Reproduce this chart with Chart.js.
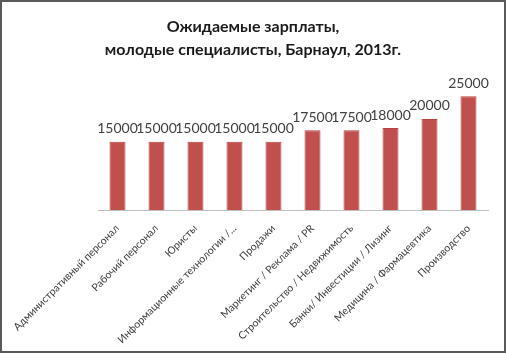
<!DOCTYPE html>
<html>
<head>
<meta charset="utf-8">
<script src="https://cdn.jsdelivr.net/npm/chart.js@4"></script>
<style>
    html, body { margin: 0; padding: 0; background: #ffffff; }
    #wrap {
        width: 502px;
        height: 349px;
        border: 2px solid #5a5a5a;
        background: #ffffff;
    }
</style>
</head>
<body>
<div id="wrap"><canvas id="salaryChart" width="502" height="349"></canvas></div>
<script>
const categories = [
    "Административный персонал",
    "Рабочий персонал",
    "Юристы",
    "Информационные технологии /...",
    "Продажи",
    "Маркетинг / Реклама / PR",
    "Строительство / Недвижимость",
    "Банки/ Инвестиции / Лизинг",
    "Медицина / Фармацевтика",
    "Производство"
];
const salaries = [15000, 15000, 15000, 15000, 15000, 17500, 17500, 18000, 20000, 25000];
const titleLines = ["Ожидаемые зарплаты,", "молодые специалисты, Барнаул, 2013г."];

// value labels above each bar
const valueLabels = {
    id: "valueLabels",
    afterDatasetsDraw(chart) {
        const ctx = chart.ctx;
        const meta = chart.getDatasetMeta(0);
        ctx.save();
        ctx.font = "14px Lato, 'Open Sans', sans-serif";
        ctx.fillStyle = "#404040";
        ctx.textAlign = "center";
        ctx.textBaseline = "bottom";
        meta.data.forEach(function (bar, i) {
            ctx.fillText(String(salaries[i]), bar.x, bar.y - 6);
        });
        ctx.restore();
    }
};

// empty axis that only reserves space at a side of the plot
function spacer(position, width) {
    return {
        position: position,
        display: true,
        min: 0,
        max: 31000,
        grid: { display: false },
        border: { display: false },
        ticks: { display: false },
        afterFit: function (scale) {
            scale.width = width;
        }
    };
}

let ctx = document.getElementById("salaryChart").getContext("2d");

new Chart(ctx, {
    type: "bar",
    data: {
        labels: categories,
        datasets: [{
            data: salaries,
            backgroundColor: "#c0504d",
            borderColor: "#b9423f",
            borderWidth: 1,
            barPercentage: 0.41,
            categoryPercentage: 1.0
        }]
    },
    options: {
        responsive: false,
        animation: false,
        layout: {
            padding: { top: 4, right: 0, bottom: 1, left: 0 }
        },
        plugins: {
            legend: { display: false },
            tooltip: { enabled: false },
            title: {
                display: true,
                text: titleLines,
                color: "#1a1a1a",
                font: { family: "Lato, 'Open Sans', sans-serif", size: 16, weight: "bold", lineHeight: 1.4 },
                padding: { top: 10, bottom: 8 }
            }
        },
        scales: {
            x: {
                grid: { display: false },
                border: { display: true, color: "#bfbfbf" },
                ticks: {
                    color: "#404040",
                    font: { family: "Lato, 'Open Sans', sans-serif", size: 10.5 },
                    minRotation: 45,
                    maxRotation: 45,
                    autoSkip: false,
                    padding: 4
                }
            },
            y: spacer("left", 96),
            yRight: spacer("right", 16)
        }
    },
    plugins: [valueLabels]
});
</script>
</body>
</html>
